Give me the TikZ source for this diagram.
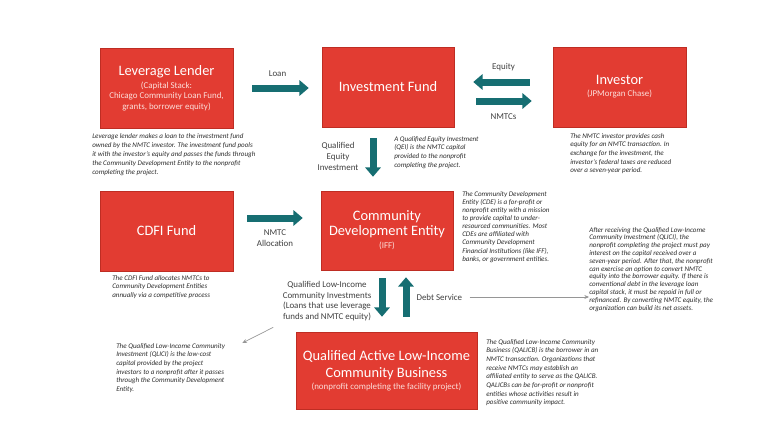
\documentclass[tikz,border=0pt]{standalone}
\usepackage{fontspec}
\setmainfont{Carlito}
\usetikzlibrary{arrows.meta,positioning,calc}

\definecolor{boxred}{RGB}{226,60,50}
\definecolor{boxedge}{RGB}{190,45,35}
\definecolor{subpink}{RGB}{252,222,218}
\definecolor{flowteal}{RGB}{22,110,114}
\definecolor{lbltxt}{RGB}{64,64,64}
\definecolor{captxt}{RGB}{45,45,45}
\definecolor{notegray}{RGB}{150,150,150}
\newcommand{\boxhead}{\fontsize{10.8}{12}\selectfont\color{white}}

\begin{document}
\begin{tikzpicture}[x=0.75pt,y=-0.75pt,
   box/.style={fill=boxred,draw=boxedge,line width=0.4pt,align=center,inner sep=0pt,text=subpink,font=\fontsize{6.7}{7.9}\selectfont},
   flow/.style={draw=flowteal,line width=5.25pt,-{Triangle[width=11.5pt,length=7pt]}},
   lbl/.style={text=lbltxt,align=center,inner sep=0pt,font=\fontsize{6.7}{8}\selectfont},
   captext/.style={anchor=north west,inner sep=0pt,align=left,text=captxt,font=\fontsize{5.3}{6.5}\selectfont\itshape},
   note/.style={draw=notegray,line width=0.5pt,-{Stealth[length=3.5pt,width=3pt]}}]
  \fill[white] (0,0) rectangle (768,432);
  \useasboundingbox (0,0) rectangle (768,432);

  % boxes
  \node[box,minimum width=99.75pt,minimum height=60pt] (lender) at (166.5,88) {{\boxhead Leverage Lender}\\[2pt](Capital Stack:\\Chicago Community Loan Fund,\\grants, borrower equity)};
  \node[box,minimum width=99pt,minimum height=60pt] (fund) at (388,87) {\boxhead Investment Fund};
  \node[box,minimum width=99.75pt,minimum height=60pt] (investor) at (619.5,87) {{\boxhead Investor}\\[1.2pt](JPMorgan Chase)};
  \node[box,minimum width=99.75pt,minimum height=60pt] (cdfi) at (166.5,231) {\boxhead CDFI Fund};
  \node[box,minimum width=99pt,minimum height=59.25pt] (cde) at (387,230.5) {{\boxhead Community}\\[0.5pt]{\boxhead Development Entity}\\[2.5pt](IFF)};
  \node[box,minimum width=135.75pt,minimum height=57.75pt] (qalicb) at (386.5,370.5) {{\boxhead Qualified Active Low-Income}\\[3.3pt]{\boxhead Community Business}\\[0.4pt](nonprofit completing the facility project)};

  % flows
  \draw[flow,shorten <=14.25pt,shorten >=9.75pt] (lender.east) -- (lender.east -| fund.west) node[lbl,midway,yshift=10.5pt] (loan) {Loan};
  \draw[flow,shorten <=17.25pt,shorten >=14.25pt] ($(investor.west)+(0,-5)$) -- ($(fund.east)+(0,-5)$) node[lbl,midway,yshift=11.25pt] (equity) {Equity};
  \draw[flow,shorten <=16.5pt,shorten >=15.75pt] ($(fund.east)+(0,14)$) -- ($(investor.west)+(0,14)$) node[lbl,midway,yshift=-12pt] (nmtcs) {NMTCs};
  \draw[flow,shorten <=8.25pt,shorten >=10.5pt] ($(fund.south)+(-15,0)$) -- ($(cde.north)+(-14,0)$) node[lbl,midway,xshift=-26.25pt,yshift=2pt] (qei) {Qualified\\Equity\\Investment};
  \draw[flow,shorten <=10.5pt,shorten >=13.5pt] ($(cdfi.east)+(0,-13)$) -- ($(cde.west)+(0,-12.5)$) node[lbl,midway,yshift=-15pt,xshift=-1.5pt] (alloc) {NMTC\\Allocation};
  \draw[flow,shorten <=6pt,shorten >=11.25pt] ($(cde.south)+(-5,0)$) -- ($(qalicb.north)+(-4.5,0)$) node[lbl,midway,xshift=-41.25pt] (qlicilbl) {Qualified Low-Income\\Community Investments\\(Loans that use leverage\\funds and NMTC equity)};
  \draw[flow,shorten <=11.25pt,shorten >=5.25pt] ($(qalicb.north)+(19.5,0)$) -- ($(cde.south)+(19,0)$) node[lbl,midway,xshift=25pt,yshift=3pt] (debt) {Debt Service};

  % captions
  \node[captext,font=\fontsize{5.3}{6.9}\selectfont\itshape] (levercap) at (92,133) {Leverage lender makes a loan to the investment fund\\owned by the NMTC investor. The investment fund pools\\it with the investor's equity and passes the funds through\\the Community Development Entity to the nonprofit\\completing the project.};
  \node[captext] (qeicap) at (394,136) {A Qualified Equity Investment\\(QEI) is the NMTC capital\\provided to the nonprofit\\completing the project.};
  \node[captext] (invcap) at (570,133) {The NMTC investor provides cash\\equity for an NMTC transaction.  In\\exchange for the investment, the\\investor's federal taxes are reduced\\over a seven-year period.};
  \node[captext] (cdficap) at (112,275) {The CDFI Fund allocates NMTCs to\\Community Development Entities\\annually via a competitive process};
  \node[captext,font=\fontsize{5.3}{6.1}\selectfont\itshape] (cdecap) at (462,191) {The Community Development\\Entity (CDE) is a for-profit or\\nonprofit entity with a mission\\to provide capital to under-\\resourced communities. Most\\CDEs are affiliated with\\Community Development\\Financial Institutions (like IFF),\\banks, or government entities.};
  \node[captext,font=\fontsize{5.3}{5.85}\selectfont\itshape] (after) at (589,227) {After receiving the Qualified Low-Income\\Community Investment (QLICI), the\\nonprofit completing the project must pay\\interest on the capital received over a\\seven-year period.  After that, the nonprofit\\can exercise an option  to convert  NMTC\\equity into the borrower equity.  If there is\\conventional debt in the leverage loan\\capital stack, it must be repaid  in full or\\refinanced. By converting NMTC equity, the\\organization can build its net assets.};
  \node[captext] (qlicap) at (116,343) {The Qualified Low-Income Community\\Investment (QLICI) is the low-cost\\capital provided by the project\\investors to a nonprofit after it passes\\through  the Community Development\\Entity.};
  \node[captext] (qalcap) at (486,339) {The Qualified Low-Income Community\\Business (QALICB) is the borrower in an\\NMTC transaction. Organizations that\\receive NMTCs may establish an\\affiliated entity to serve as the QALICB.\\QALICBs can be for-profit or nonprofit\\entities whose activities result in\\positive community impact.};

  % pointers
  \draw[note,shorten <=3pt] (debt.east) -- (debt.east -| after.west);
  \draw[note] ($(qlicilbl.south west)+(-6,3)$) -- ($(qlicap.north east)+(17,0)$);
\end{tikzpicture}
\end{document}
